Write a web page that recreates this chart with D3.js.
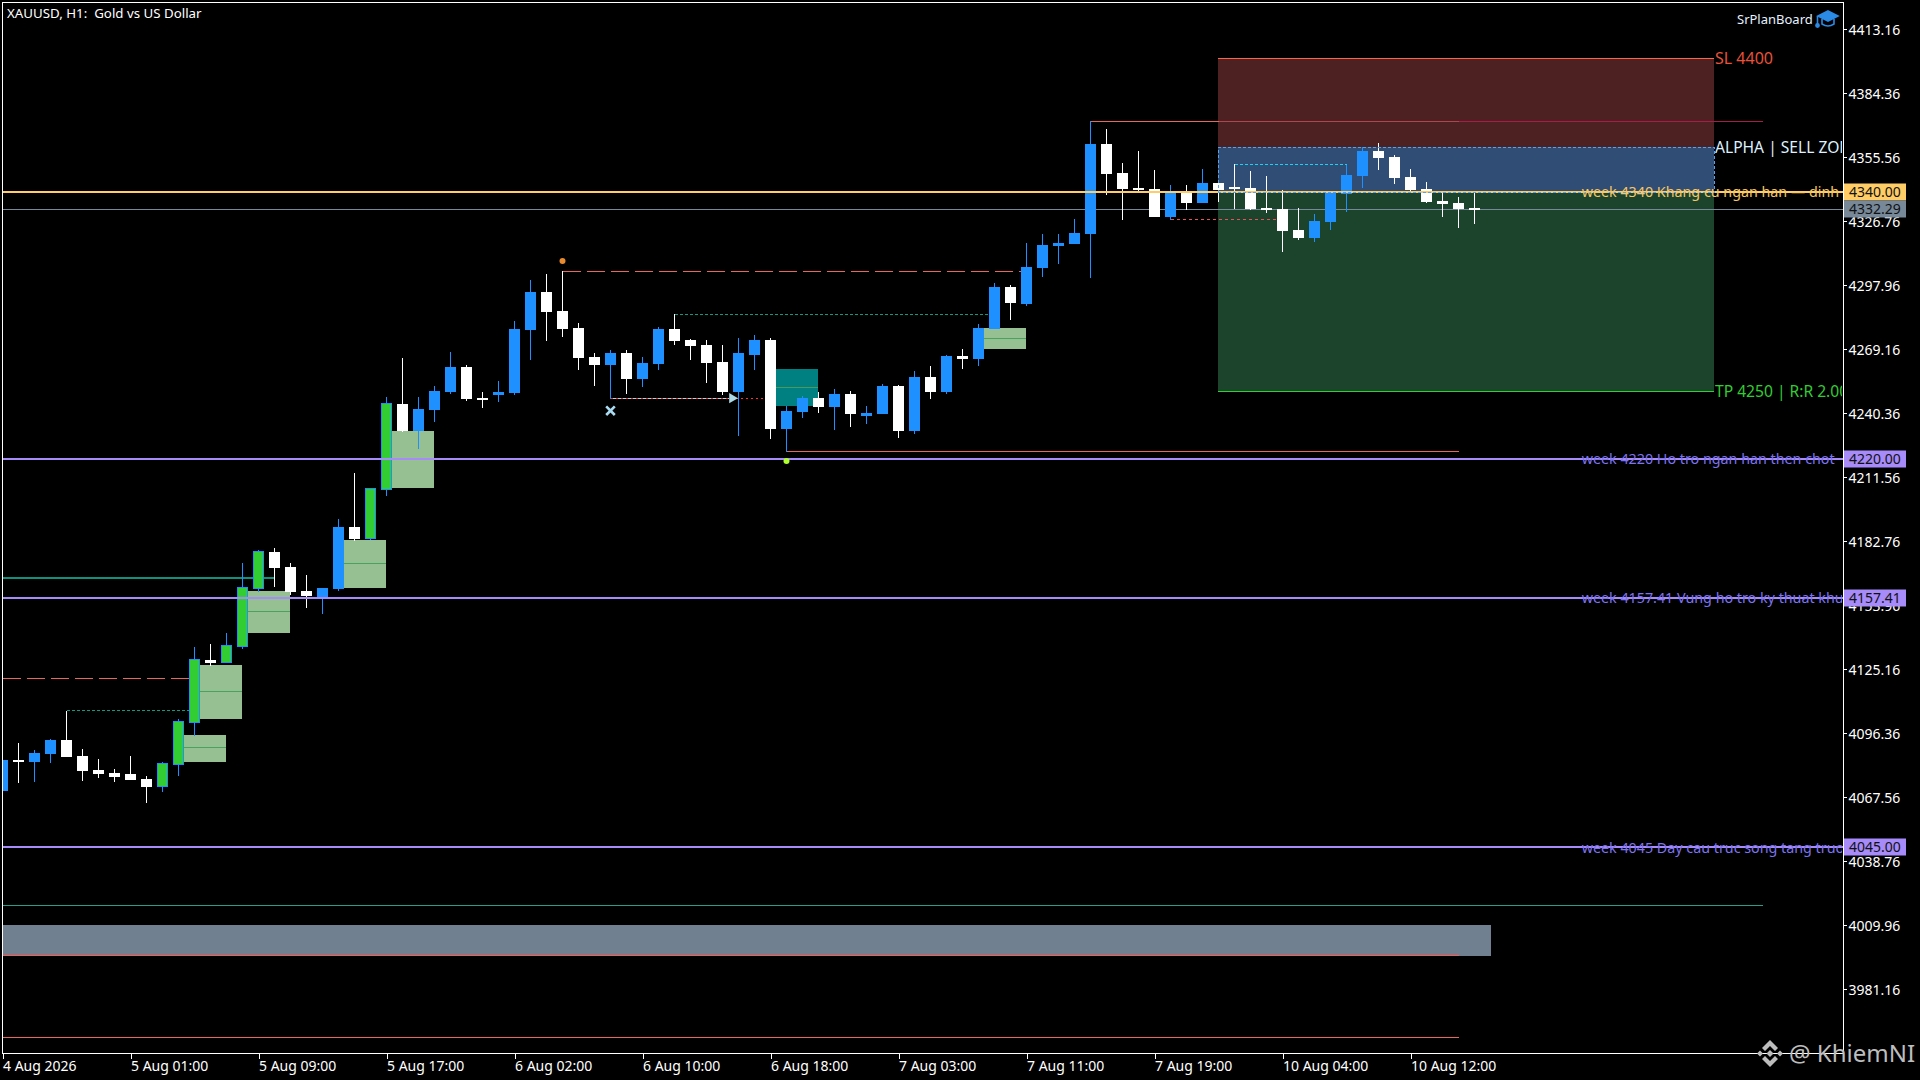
<!DOCTYPE html>
<html>
<head>
<meta charset="utf-8">
<title>XAUUSD H1</title>
<script src="https://cdn.jsdelivr.net/npm/d3@7"></script>
<style>
  html, body { margin: 0; padding: 0; background: #000; }
  svg { display: block; }
  text { font-family: "Noto Sans", sans-serif; white-space: pre; }
</style>
</head>
<body>
<svg id="chart" width="1920" height="1080"></svg>
<script>
// Candle values
const opens = [4070.40,4084.35,4083.45,4087.05,4093.35,4086.15,4079.85,4078.50,4078.05,4075.80,
  4072.20,4082.10,4101.00,4129.35,4128.00,4135.20,4161.30,4177.95,4171.20,4160.40,
  4157.70,4161.30,4189.20,4183.80,4205.85,4244.55,4232.40,4241.85,4249.95,4261.20,
  4247.25,4248.60,4249.50,4277.85,4294.95,4286.40,4278.75,4265.70,4262.10,4267.50,
  4255.80,4262.55,4278.30,4273.35,4271.10,4263.45,4249.95,4266.60,4273.35,4233.30,
  4240.95,4247.25,4243.20,4249.05,4239.15,4240.05,4252.65,4232.40,4256.70,4249.95,
  4266.15,4264.80,4278.30,4297.20,4289.55,4305.75,4315.65,4316.55,4321.05,4361.55,
  4348.50,4341.75,4341.30,4328.70,4339.95,4335.00,4344.00,4342.20,4341.75,4332.75,
  4332.30,4322.85,4319.25,4326.45,4339.05,4347.15,4358.40,4355.70,4346.70,4341.30,
  4335.90,4335.00,4332.75];
const highs = [4084.35,4092.00,4088.85,4093.80,4106.40,4089.30,4084.80,4080.30,4086.15,4077.15,
  4083.45,4102.80,4135.20,4136.55,4141.50,4173.00,4178.85,4179.75,4173.00,4167.60,
  4161.75,4192.80,4213.50,4206.75,4247.70,4265.25,4247.70,4252.65,4267.95,4262.10,
  4249.95,4254.90,4281.90,4300.35,4303.05,4304.40,4281.00,4267.50,4268.85,4268.85,
  4265.70,4279.20,4285.05,4273.80,4273.35,4271.10,4274.25,4275.60,4274.25,4243.65,
  4248.15,4249.95,4251.30,4250.40,4243.65,4253.55,4253.10,4259.40,4261.65,4266.60,
  4269.30,4280.55,4299.00,4298.10,4317.00,4321.05,4321.05,4327.80,4371.90,4368.30,
  4353.00,4358.40,4349.85,4343.10,4343.10,4350.30,4344.00,4352.55,4349.40,4347.15,
  4340.85,4332.75,4330.05,4339.95,4352.10,4360.20,4362.00,4356.60,4350.30,4344.45,
  4339.50,4337.70,4339.50];
const lows = [4070.40,4074.00,4074.45,4083.00,4085.70,4074.90,4076.25,4074.45,4075.35,4065.00,
  4069.95,4077.15,4095.15,4126.65,4128.00,4134.30,4159.95,4162.20,4158.60,4152.75,
  4150.05,4160.40,4182.90,4183.35,4203.15,4231.95,4224.30,4236.45,4249.05,4245.90,
  4242.75,4245.45,4248.60,4264.35,4272.90,4274.70,4259.85,4252.65,4246.80,4249.05,
  4252.20,4259.85,4271.10,4264.35,4254.00,4248.60,4230.15,4259.85,4228.80,4222.95,
  4238.25,4240.50,4232.85,4234.20,4235.55,4240.05,4229.25,4231.05,4246.80,4249.05,
  4260.30,4261.65,4278.30,4282.35,4288.65,4301.70,4307.55,4316.55,4301.25,4338.60,
  4327.35,4340.40,4328.70,4327.35,4331.85,4335.00,4335.45,4332.30,4331.85,4330.50,
  4312.95,4318.35,4317.45,4322.85,4330.95,4341.75,4349.85,4343.55,4339.95,4335.00,
  4328.70,4323.75,4325.55];
const closes = [4084.35,4083.45,4087.50,4093.35,4085.70,4079.40,4078.05,4076.70,4075.35,4072.20,
  4082.55,4101.45,4129.35,4128.00,4135.65,4161.75,4177.95,4170.75,4159.95,4158.15,
  4161.75,4189.20,4183.80,4206.30,4244.55,4232.40,4242.30,4250.40,4261.20,4246.80,
  4246.35,4249.95,4278.30,4294.95,4285.95,4278.30,4265.25,4262.10,4267.50,4255.80,
  4263.00,4278.30,4272.90,4270.65,4263.00,4249.95,4267.50,4273.35,4233.30,4241.40,
  4247.25,4243.20,4249.05,4240.05,4240.50,4252.65,4232.40,4256.70,4249.95,4266.15,
  4264.80,4278.75,4297.20,4290.00,4306.20,4316.10,4317.00,4321.50,4361.55,4348.05,
  4341.30,4340.85,4328.70,4339.95,4335.00,4344.00,4340.85,4341.30,4332.30,4331.85,
  4322.40,4319.25,4326.90,4339.95,4347.60,4358.40,4355.25,4346.25,4340.85,4335.45,
  4334.55,4332.30,4331.85];

// Up bars painted green by the order block indicator
const greenBars = [10, 11, 12, 14, 15, 16, 23, 24];

// Axis labels
const priceTicks = [4413.16,4384.36,4355.56,4326.76,4297.96,4269.16,4240.36,4211.56,
  4182.76,4153.96,4125.16,4096.36,4067.56,4038.76,4009.96,3981.16];
const timeTickBars = [0, 8, 16, 24, 32, 40, 48, 56, 64, 72, 80, 88];
const timeTickLabels = ["4 Aug 2026","5 Aug 01:00","5 Aug 09:00","5 Aug 17:00","6 Aug 02:00",
  "6 Aug 10:00","6 Aug 18:00","7 Aug 03:00","7 Aug 11:00","7 Aug 19:00","10 Aug 04:00","10 Aug 12:00"];

// Order blocks: [first bar, last bar, top, bottom, mid]
const greenZones = [
  [11, 14, 4095.60, 4083.45, 4089.75],
  [12, 15, 4127.10, 4102.80, 4114.95],
  [15, 18, 4160.40, 4141.50, 4150.95],
  [21, 24, 4183.35, 4161.75, 4172.55],
  [24, 27, 4232.40, 4206.75, 4219.80],
  [61, 64, 4278.75, 4269.30, 4273.80]
];
const tealZones = [[48, 51, 4260.30, 4243.65, 4251.75]];

// Short structure lines: [first bar, last bar, price, colour, width, dash]
const levelSegments = [
  [0, 17, 4166.40, "#10917b", 2, null],
  [0, 12, 4120.80, "#e8675a", 1, "18 6"],
  [4, 12, 4106.40, "#109a80", 1, "3 2"],
  [35, 64, 4304.25, "#e8675a", 1, "18 6"],
  [42, 62, 4284.95, "#109a80", 1, "3 2"],
  [49, 91, 4223.25, "#e8675a", 1, null],
  [68, 76, 4371.75, "#e8675a", 1, null],
  [76, 91, 4371.75, "#b04550", 1, null],
  [91, 110, 4371.75, "#a81c4c", 1, null],
  [77, 84, 4352.45, "#19d3f3", 1, "3 2"],
  [73, 80, 4327.65, "#e8505a", 1, "3 3"],
  [0, 110, 4018.95, "#2a9d8a", 1, null],
  [0, 91, 3996.15, "#ff5a4f", 1, null],
  [0, 91, 3959.55, "#e8675a", 1, null]
];

// Week levels
const weekPrices = [4340, 4220, 4157.41, 4045];
const weekLabels = ["4340.00", "4220.00", "4157.41", "4045.00"];
const weekTexts = ["week 4340 Khang cu ngan han \u2014 dinh", "week 4220 Ho tro ngan han then chot",
  "week 4157.41 Vung ho tro ky thuat khu", "week 4045 Day cau truc song tang truong"];
const weekColors = ["#ffcc66", "#a78bfa", "#a78bfa", "#a78bfa"];
const weekTextColors = ["#f5c765", "#7d73f0", "#7d73f0", "#7d73f0"];

const lastPrice = 4332.29;

// Dimensions
const width = 1920;
const height = 1080;
const plotRight = 1843;
const plotBottom = 1053;
const barStep = 16;

const svg = d3.select("#chart");

// Scales
const x = d3.scaleLinear().domain([0, 100]).range([2.5, 2.5 + 100 * barStep]);
const y = d3.scaleLinear().domain([4413.16, 3981.16]).range([29.3, 989.3]);

svg.append("rect").attr("width", width).attr("height", height).attr("fill", "#000");

svg.append("defs").append("clipPath").attr("id", "plot-clip")
  .append("rect").attr("x", 3).attr("y", 3).attr("width", plotRight - 3).attr("height", plotBottom - 3);
svg.select("defs").append("clipPath").attr("id", "label-clip")
  .append("rect").attr("x", 3).attr("y", 3).attr("width", plotRight - 3 - 1).attr("height", plotBottom - 3);

const plot = svg.append("g").attr("clip-path", "url(#plot-clip)");
const crisp = plot.append("g").attr("shape-rendering", "crispEdges");

// Trade box
const slTop = 4400, sellTop = 4360, entry = 4340, tp = 4250;
const boxX = x(76) - 0.5, boxW = x(107) - x(76);
crisp.append("rect").attr("x", boxX).attr("y", y(slTop)).attr("width", boxW).attr("height", y(sellTop) - y(slTop)).attr("fill", "#4d2121");
crisp.append("rect").attr("x", boxX).attr("y", y(sellTop)).attr("width", boxW).attr("height", y(entry) - y(sellTop)).attr("fill", "#2f4d75");
crisp.append("rect").attr("x", boxX).attr("y", y(entry)).attr("width", boxW).attr("height", y(tp) - y(entry)).attr("fill", "#1c432c");

// Grey band at the bottom
crisp.append("rect").attr("x", x(0)).attr("y", y(4010.10)).attr("width", x(93) - x(0)).attr("height", y(3996.15) - y(4010.10)).attr("fill", "#708090");

// Current price line sits behind the candles
crisp.append("line").attr("x1", 3).attr("x2", plotRight).attr("y1", y(lastPrice)).attr("y2", y(lastPrice))
  .attr("stroke", "#778899").attr("stroke-width", 1);

// Order blocks
function drawZones(zones, fill, midColor) {
  const g = crisp.append("g");
  g.selectAll("rect").data(zones).enter().append("rect")
    .attr("x", d => x(d[0]) - 0.5)
    .attr("width", d => x(d[1]) - x(d[0]))
    .attr("y", d => y(d[2]))
    .attr("height", d => y(d[3]) - y(d[2]))
    .attr("fill", fill);
  g.selectAll("line").data(zones).enter().append("line")
    .attr("x1", d => x(d[0]) - 0.5)
    .attr("x2", d => x(d[1]) - 0.5)
    .attr("y1", d => y(d[4]))
    .attr("y2", d => y(d[4]))
    .attr("stroke", midColor);
}
drawZones(greenZones, "#96bf92", "#4aa35d");
drawZones(tealZones, "#008080", "#4a9a5d");

// Structure lines
crisp.append("g").selectAll("line").data(levelSegments).enter().append("line")
  .attr("x1", d => d[0] === 0 ? 3 : x(d[0]))
  .attr("x2", d => x(d[1]))
  .attr("y1", d => y(d[2]))
  .attr("y2", d => y(d[2]))
  .attr("stroke", d => d[3])
  .attr("stroke-width", d => d[4])
  .attr("stroke-dasharray", d => d[5]);

// Box edges
crisp.append("line").attr("x1", boxX).attr("x2", boxX + boxW).attr("y1", y(slTop)).attr("y2", y(slTop)).attr("stroke", "#ff6347");
crisp.append("line").attr("x1", boxX).attr("x2", boxX + boxW).attr("y1", y(tp)).attr("y2", y(tp)).attr("stroke", "#32cd32");

// Candles
const bars = d3.range(opens.length);
const wickColor = i => closes[i] >= opens[i] ? "#1e90ff" : "#fff";
crisp.append("g").selectAll("rect").data(bars).enter().append("rect")
  .attr("x", i => x(i) - 0.5)
  .attr("width", 1)
  .attr("y", i => y(highs[i]))
  .attr("height", i => y(lows[i]) - y(highs[i]))
  .attr("fill", wickColor);
crisp.append("g").selectAll("rect").data(bars).enter().append("rect")
  .attr("x", i => x(i) - 5.5)
  .attr("width", 11)
  .attr("y", i => y(Math.max(opens[i], closes[i])))
  .attr("height", i => Math.max(2, y(Math.min(opens[i], closes[i])) - y(Math.max(opens[i], closes[i]))))
  .attr("fill", wickColor);
crisp.append("g").selectAll("rect").data(greenBars).enter().append("rect")
  .attr("x", i => x(i) - 5)
  .attr("width", 10)
  .attr("y", i => y(closes[i]))
  .attr("height", i => y(opens[i]) - y(closes[i]))
  .attr("fill", "#32cd32")
  .attr("stroke", "#1e90ff")
  .attr("stroke-width", 1);

// Trade arrow and cross from the signal
const arrowPrice = 4247.15;
crisp.append("line").attr("x1", x(38)).attr("x2", x(45.4)).attr("y1", y(arrowPrice)).attr("y2", y(arrowPrice)).attr("stroke", "#add8e6");
crisp.append("line").attr("x1", x(38)).attr("x2", x(47.6)).attr("y1", y(arrowPrice)).attr("y2", y(arrowPrice))
  .attr("stroke", "#ff3030").attr("stroke-dasharray", "2 3");
plot.append("path").attr("d", d3.symbol().type(d3.symbolTriangle).size(45))
  .attr("transform", `translate(${x(45.6)},${y(arrowPrice)}) rotate(90)`).attr("fill", "#add8e6");
plot.append("path").attr("d", d3.symbol().type(d3.symbolX).size(50))
  .attr("transform", `translate(${x(38)},${y(4241.55)})`).attr("fill", "none").attr("stroke", "#a9dcf2").attr("stroke-width", 2.6);

plot.append("circle").attr("cx", x(35)).attr("cy", y(4308.90)).attr("r", 3).attr("fill", "#e88b2e");
plot.append("circle").attr("cx", x(49)).attr("cy", y(4218.90)).attr("r", 3).attr("fill", "#adff2f");

// Blue dashed sell zone border
const sellEdge = crisp.append("path")
  .attr("d", `M${boxX},${y(entry) + 1}V${y(sellTop)}H${boxX + boxW}V${y(entry) + 1}H${boxX}`)
  .attr("fill", "none").attr("stroke", "#5aa2e8").attr("stroke-dasharray", "3 2");

// Week lines run over the candles
crisp.append("g").selectAll("line").data(weekPrices).enter().append("line")
  .attr("x1", 3)
  .attr("x2", plotRight)
  .attr("y1", d => y(d))
  .attr("y2", d => y(d))
  .attr("stroke", (d, i) => weekColors[i])
  .attr("stroke-width", 2);
sellEdge.raise();

// Texts inside the plot, cut off at the axis like in the terminal
const labels = svg.append("g").attr("clip-path", "url(#label-clip)");
labels.selectAll(".week").data(weekPrices).enter().append("text")
  .attr("class", "week")
  .attr("x", x(98.7))
  .attr("y", d => y(d))
  .attr("dy", "0.36em")
  .attr("font-size", 14.3)
  .attr("fill", (d, i) => weekTextColors[i])
  .text((d, i) => weekTexts[i]);

const boxLabels = [
  ["SL 4400", slTop, "#e8523a", 16],
  ["ALPHA | SELL ZONE", sellTop, "#dff0ff", 15.6],
  ["TP 4250 | R:R 2.00", tp, "#32cd32", 15.6]
];
labels.selectAll(".box").data(boxLabels).enter().append("text")
  .attr("class", "box")
  .attr("x", boxX + boxW + 1)
  .attr("y", d => y(d[1]))
  .attr("dy", "0.36em")
  .attr("font-size", d => d[3])
  .attr("fill", d => d[2])
  .text(d => d[0]);

// Chart frame
svg.append("rect").attr("x", 2.5).attr("y", 2.5).attr("width", plotRight - 2).attr("height", plotBottom - 2)
  .attr("fill", "none").attr("stroke", "#fff").attr("shape-rendering", "crispEdges");

// Price axis
const yAxis = svg.append("g").attr("transform", `translate(${plotRight + 0.5},0)`)
  .call(d3.axisRight(y).tickValues(priceTicks).tickFormat(d3.format(".2f")).tickSize(3).tickPadding(2));
yAxis.select(".domain").remove();
yAxis.selectAll("line").attr("stroke", "#fff").attr("shape-rendering", "crispEdges");
yAxis.selectAll("text").attr("fill", "#fff").attr("font-size", 14).attr("font-family", "Noto Sans").attr("dy", "0.4em");

// Time axis
const xAxis = svg.append("g").attr("transform", `translate(0,${plotBottom + 0.5})`)
  .call(d3.axisBottom(x).tickValues(timeTickBars).tickFormat((d, i) => timeTickLabels[i]).tickSize(5).tickPadding(3));
xAxis.select(".domain").remove();
xAxis.selectAll("line").attr("stroke", "#fff").attr("shape-rendering", "crispEdges");
xAxis.selectAll("text").attr("fill", "#fff").attr("font-size", 14).attr("font-family", "Noto Sans")
  .attr("text-anchor", "start");

// Price tags on the axis
const tags = weekPrices.map((d, i) => [d, weekLabels[i], weekColors[i]]).concat([[lastPrice, "4332.29", "#778899"]]);
const tag = svg.append("g").selectAll("g").data(tags).enter().append("g")
  .attr("transform", d => `translate(${plotRight + 1},${Math.round(y(d[0]))})`);
tag.append("rect").attr("x", 0).attr("y", -8.5).attr("width", 62).attr("height", 17).attr("fill", d => d[2]);
tag.append("text").attr("x", 5).attr("dy", "0.36em").attr("font-size", 14).attr("fill", "#111").text(d => d[1]);

// Header
svg.append("text").attr("x", 7).attr("y", 18).attr("font-size", 13.3).attr("fill", "#fff")
  .text("XAUUSD, H1:  Gold vs US Dollar");
svg.append("text").attr("x", 1737).attr("y", 24).attr("font-size", 13).attr("fill", "#e6f2ff")
  .text("SrPlanBoard");

// Graduation cap icon
const cap = svg.append("g").attr("fill", "none").attr("stroke", "#2a8ae6").attr("stroke-width", 1.6);
cap.append("path").attr("d", "M1828,11 L1838,16 L1828,21 L1818,16 Z").attr("fill", "#2a8ae6");
cap.append("path").attr("d", "M1822,19 V24 Q1828,28 1834,24 V19");
cap.append("path").attr("d", "M1817.5,16 V24");
cap.append("circle").attr("cx", 1817.5).attr("cy", 25.5).attr("r", 1.6).attr("fill", "#2a8ae6");

// Watermark
const mark = svg.append("g").attr("fill", "#bdbdbd");
mark.append("path").attr("d", "M1770,1040 L1778,1048 L1775,1051 L1770,1046 L1765,1051 L1762,1048 Z");
mark.append("path").attr("d", "M1770,1067 L1778,1059 L1775,1056 L1770,1061 L1765,1056 L1762,1059 Z");
mark.append("path").attr("d", "M1757,1053.5 L1760,1050.5 L1763,1053.5 L1760,1056.5 Z");
mark.append("path").attr("d", "M1783,1053.5 L1780,1050.5 L1777,1053.5 L1780,1056.5 Z");
mark.append("path").attr("d", "M1770,1050 L1773.5,1053.5 L1770,1057 L1766.5,1053.5 Z");
svg.append("text").attr("x", 1789).attr("y", 1062).attr("font-size", 24).attr("fill", "#bdbdbd")
  .text("@ KhiemNI");
</script>
</body>
</html>
